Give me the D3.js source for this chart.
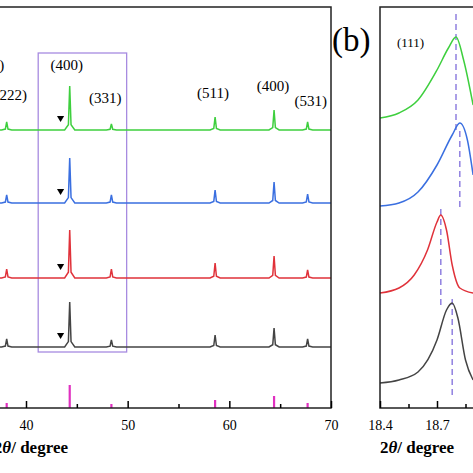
<!DOCTYPE html><html><head><meta charset="utf-8">
<script src="https://cdn.jsdelivr.net/npm/d3@7"></script>
<style>body{margin:0;background:#fff}svg{font-family:"Liberation Serif","Times New Roman",serif}</style></head><body>
<svg id="c" width="473" height="473"></svg>
<script>
// Panel (a)
const peakPos = [36.3, 38.1, 44.3, 48.4, 58.6, 64.4, 67.7];
const seriesNames = ["green","blue","red","black"];
const seriesColors = ["#3ecf3e","#3a6fe0","#e0323a","#444444"];
const baselines = [278, 205, 130, 61];
const peakHeights = [
  [14, 8, 44, 6, 13, 20, 8],
  [14, 8, 45, 8, 13, 21, 9],
  [15, 9, 48, 9, 15, 22, 8],
  [13, 8, 45, 7, 12, 19, 8]
];
const refPos = [36.3, 38.1, 44.3, 48.4, 58.6, 64.4, 67.7];
const refH = [6, 5, 23, 4, 8, 12, 5];
const hklLabels = [
  {t:"(311)", x:36.3, y:70}, {t:"(222)", x:38.5, y:100}, {t:"(400)", x:44.0, y:70},
  {t:"(331)", x:47.8, y:103}, {t:"(511)", x:58.4, y:98}, {t:"(400)", x:64.3, y:91}, {t:"(531)", x:68.0, y:106}
];
const xTicksA = [40, 50, 60, 70];
// Panel (b)
const bX = {
  green: [18.40,18.50,18.60,18.70,18.76,18.80,18.84,18.89],
  blue:  [18.40,18.50,18.60,18.70,18.78,18.82,18.86,18.89],
  red:   [18.40,18.50,18.58,18.65,18.70,18.72,18.75,18.78,18.82,18.89],
  black: [18.40,18.50,18.60,18.70,18.75,18.78,18.81,18.85,18.89]
};
const bY = {
  green: [290,295,308,338,360,371,348,303],
  blue:  [202,205,216,243,273,285,268,233],
  red:   [115,120,133,158,186,193,178,143,120,115],
  black: [25,28,36,68,98,105,90,48,28]
};
const bPeaks = {green:18.80, blue:18.82, red:18.72, black:18.78};
const bDashRange = {green:[278,398], blue:[201,278], red:[103,200], black:[13,110]};
const xTicksB = [18.4, 18.7];

const svg = d3.select("#c");
const xA = d3.scaleLinear().domain([40,70]).range([26,331]);
const yA = d3.scaleLinear().domain([0,400]).range([408,8]);
const gA = svg.append("g");
gA.append("rect").attr("x",xA(41.2)).attr("y",53).attr("width",xA(49.9)-xA(41.2)).attr("height",299)
  .attr("fill","none").attr("stroke","#a78be0").attr("stroke-width",1.3);
seriesNames.forEach((s,i)=>{
  const pts=[[25,baselines[i]]];
  peakPos.forEach((p,j)=>{const h=peakHeights[i][j],b=baselines[i];
    pts.push([p-0.5,b],[p-0.13,b+0.12*h],[p,b+h],[p+0.13,b+0.12*h],[p+0.5,b]);});
  pts.push([70,baselines[i]]);
  gA.append("path").datum(pts).attr("fill","none").attr("stroke",seriesColors[i]).attr("stroke-width",1.5)
    .attr("d",d3.line().x(d=>xA(d[0])).y(d=>yA(d[1])));
  gA.append("path").attr("d",d3.symbol(d3.symbolTriangle,22)()).attr("fill","#000")
    .attr("transform",`translate(${xA(43.4)},${yA(baselines[i]+12)}) rotate(180)`);
});
refPos.forEach((p,j)=>gA.append("line").attr("x1",xA(p)).attr("x2",xA(p)).attr("y1",yA(0)).attr("y2",yA(refH[j]))
  .attr("stroke","#e030c0").attr("stroke-width",2.2));
hklLabels.forEach(l=>gA.append("text").attr("x",xA(l.x)).attr("y",l.y).attr("text-anchor","middle").attr("font-size",15).text(l.t));
gA.append("rect").attr("x",-300).attr("y",7).attr("width",331+300).attr("height",401).attr("fill","none").attr("stroke","#222").attr("stroke-width",1.5);
gA.append("g").attr("transform","translate(0,408)").call(d3.axisBottom(xA).tickValues(xTicksA).tickSize(-7).tickPadding(12).tickFormat(d3.format("d")))
  .call(g=>{g.select(".domain").remove();g.selectAll("text").attr("font-size",14).attr("font-family","Liberation Serif");g.selectAll("line").attr("stroke-width",1.5);});
gA.append("g").attr("transform","translate(0,408)").call(d3.axisBottom(xA).tickValues([45,55,65]).tickSize(-4).tickFormat(""))
  .call(g=>{g.select(".domain").remove();g.selectAll("line").attr("stroke-width",1.5);});
gA.append("text").attr("x",68).attr("y",453).attr("text-anchor","end").attr("font-size",17).attr("font-weight","bold")
  .html('2<tspan font-style="italic">θ</tspan>/ degree');

// Panel (b)
const xB = d3.scaleLinear().domain([18.4,18.7]).range([380,437]);
const yB = d3.scaleLinear().domain([0,400]).range([408,8]);
svg.append("rect").attr("x",371).attr("y",0).attr("width",110).attr("height",473).attr("fill","#fff");
const gB = svg.append("g");
seriesNames.forEach((s,i)=>{
  gB.append("line").attr("x1",xB(bPeaks[s])).attr("x2",xB(bPeaks[s])).attr("y1",yB(bDashRange[s][0])).attr("y2",yB(bDashRange[s][1]))
    .attr("stroke","#9080e0").attr("stroke-width",1.5).attr("stroke-dasharray","6,4");
  gB.append("path").datum(bX[s].map((x,k)=>[x,bY[s][k]])).attr("fill","none").attr("stroke",seriesColors[i]).attr("stroke-width",1.5)
    .attr("d",d3.line().curve(d3.curveMonotoneX).x(d=>xB(d[0])).y(d=>yB(d[1])));
});
gB.append("rect").attr("x",380).attr("y",7).attr("width",200).attr("height",401).attr("fill","none").attr("stroke","#222").attr("stroke-width",1.5);
gB.append("g").attr("transform","translate(0,408)").call(d3.axisBottom(xB).tickValues(xTicksB).tickSize(-7).tickPadding(12).tickFormat(d3.format(".1f")))
  .call(g=>{g.select(".domain").remove();g.selectAll("text").attr("font-size",14).attr("font-family","Liberation Serif");g.selectAll("line").attr("stroke-width",1.5);});
gB.append("g").attr("transform","translate(0,408)").call(d3.axisBottom(xB).tickValues([18.55,18.85]).tickSize(-4).tickFormat(""))
  .call(g=>{g.select(".domain").remove();g.selectAll("line").attr("stroke-width",1.5);});
gB.append("text").attr("x",380).attr("y",453).attr("font-size",17).attr("font-weight","bold")
  .html('2<tspan font-style="italic">θ</tspan>/ degree');
svg.append("text").attr("x",332).attr("y",51).attr("font-size",33).text("(b)");
svg.append("text").attr("x",397).attr("y",47).attr("font-size",13).text("(111)");
</script></body></html>
